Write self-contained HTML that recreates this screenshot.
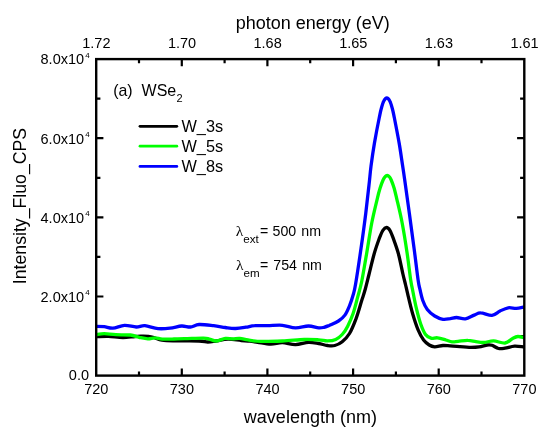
<!DOCTYPE html>
<html><head><meta charset="utf-8"><title>WSe2 fluorescence</title>
<style>
html,body{margin:0;padding:0;background:#fff}
svg{display:block}
text{font-family:"Liberation Sans",Arial,sans-serif;fill:#000}
</style></head><body>
<svg width="550" height="433" viewBox="0 0 550 433">
<rect width="550" height="433" fill="#fff"/>
<g stroke="#000" stroke-width="2.2" fill="none"><path d="M139.0 59.1 v4.2 M139.0 375.6 v-4.2"/><path d="M181.8 59.1 v7.2 M181.8 375.6 v-7.2"/><path d="M224.6 59.1 v4.2 M224.6 375.6 v-4.2"/><path d="M267.4 59.1 v7.2 M267.4 375.6 v-7.2"/><path d="M310.2 59.1 v4.2 M310.2 375.6 v-4.2"/><path d="M353.1 59.1 v7.2 M353.1 375.6 v-7.2"/><path d="M395.9 59.1 v4.2 M395.9 375.6 v-4.2"/><path d="M438.7 59.1 v7.2 M438.7 375.6 v-7.2"/><path d="M481.5 59.1 v4.2 M481.5 375.6 v-4.2"/><path d="M96.2 336.0 h4.2 M524.3 336.0 h-4.2"/><path d="M96.2 296.5 h7.2 M524.3 296.5 h-7.2"/><path d="M96.2 256.9 h4.2 M524.3 256.9 h-4.2"/><path d="M96.2 217.4 h7.2 M524.3 217.4 h-7.2"/><path d="M96.2 177.8 h4.2 M524.3 177.8 h-4.2"/><path d="M96.2 138.2 h7.2 M524.3 138.2 h-7.2"/><path d="M96.2 98.7 h4.2 M524.3 98.7 h-4.2"/></g>
<g fill="none" stroke-width="3.3" stroke-linejoin="round" stroke-linecap="butt">
<path stroke="#000" d="M96.5 336.6C98.5 336.6 104.1 336.1 108.5 336.3C112.9 336.5 118.6 337.6 123.0 337.6C127.4 337.6 131.8 336.7 135.0 336.5C138.2 336.3 139.2 336.1 142.0 336.2C144.8 336.3 148.7 336.3 152.0 337.0C155.3 337.7 158.3 339.6 162.0 340.2C165.7 340.8 167.8 340.8 174.0 340.9C180.2 341.0 193.4 340.8 199.0 341.0C204.6 341.2 205.0 342.0 207.8 342.0C210.6 342.0 212.6 341.5 216.0 341.0C219.4 340.5 223.8 339.3 228.0 339.2C232.2 339.1 237.6 340.2 241.3 340.5C245.0 340.8 247.3 340.9 250.0 341.2C252.7 341.5 254.2 341.8 257.6 342.3C261.1 342.8 266.6 344.1 270.7 344.2C274.8 344.3 278.3 342.6 282.4 342.7C286.5 342.8 291.1 344.7 295.5 344.6C299.9 344.5 304.6 342.5 308.5 342.3C312.4 342.1 315.6 343.0 318.7 343.5C321.8 344.0 324.7 345.2 327.4 345.5C330.1 345.8 332.3 346.1 334.8 345.5C337.3 344.9 339.8 343.8 342.2 341.8C344.6 339.8 347.2 337.3 349.5 333.5C351.8 329.7 353.9 324.3 356.0 318.8C358.1 313.3 360.2 305.3 361.8 300.3C363.4 295.3 364.1 293.4 365.3 289.0C366.5 284.6 367.6 279.9 369.1 274.0C370.6 268.1 372.5 259.6 374.2 253.7C375.9 247.8 377.9 242.3 379.3 238.4C380.8 234.5 381.7 232.1 382.9 230.3C384.1 228.5 385.2 227.5 386.4 227.5C387.6 227.5 388.8 228.5 389.9 230.3C391.0 232.1 391.9 234.5 393.3 238.4C394.7 242.3 396.8 247.8 398.4 253.7C400.0 259.6 401.7 268.8 402.9 274.0C404.1 279.2 404.8 281.5 405.6 285.0C406.4 288.5 406.8 290.1 407.9 294.8C409.0 299.5 410.8 307.4 412.5 313.2C414.2 319.0 416.2 325.3 418.1 329.8C420.0 334.3 421.8 337.5 423.6 340.0C425.5 342.5 427.4 343.9 429.2 345.0C431.0 346.1 432.4 346.7 434.7 346.8C437.0 346.9 440.4 345.6 443.0 345.5C445.6 345.4 447.2 345.7 450.0 345.9C452.8 346.1 456.2 346.4 459.7 346.6C463.2 346.9 467.8 347.3 471.0 347.4C474.2 347.4 476.4 347.3 479.1 346.9C481.8 346.5 485.1 345.3 487.2 345.0C489.3 344.7 490.1 344.7 492.0 345.3C493.9 345.9 496.3 348.0 498.5 348.5C500.7 349.0 502.3 348.6 505.0 348.2C507.7 347.8 511.4 346.3 514.6 346.1C517.8 345.9 522.4 346.9 524.0 347.0"/>
<path stroke="#00ff00" d="M96.5 334.7C97.8 334.5 101.0 333.7 104.2 333.7C107.4 333.7 111.4 334.5 115.8 334.7C120.2 334.9 126.5 334.6 130.4 335.0C134.3 335.4 136.2 336.7 139.1 337.3C142.0 337.9 145.1 338.7 147.8 338.8C150.5 338.9 152.7 337.8 155.1 337.9C157.5 337.9 159.2 338.9 162.4 339.1C165.6 339.3 170.3 339.1 174.0 339.0C177.7 338.9 179.6 338.8 184.5 338.7C189.4 338.6 199.4 338.0 203.5 338.1C207.6 338.2 207.1 338.6 209.3 339.1C211.5 339.6 213.8 341.1 216.5 341.0C219.2 340.9 222.6 338.8 225.3 338.4C228.0 338.0 230.1 338.8 232.5 338.8C234.9 338.8 237.2 338.2 239.8 338.4C242.4 338.6 244.6 339.4 248.0 339.9C251.4 340.4 254.8 341.2 260.5 341.4C266.2 341.6 275.1 341.3 282.4 341.0C289.7 340.7 298.1 339.7 304.2 339.5C310.2 339.3 314.8 339.6 318.7 339.8C322.6 340.0 324.6 341.0 327.4 340.9C330.2 340.8 333.2 340.5 335.7 339.4C338.2 338.3 340.2 336.7 342.2 334.5C344.2 332.3 345.9 329.8 347.7 326.2C349.5 322.6 351.5 318.1 353.2 313.2C354.9 308.3 356.4 301.8 357.8 296.6C359.2 291.4 360.1 289.1 361.6 282.0C363.1 274.9 364.9 263.5 366.6 253.7C368.3 243.9 369.9 232.5 371.7 223.2C373.5 213.9 376.1 203.8 377.5 197.8C378.9 191.9 379.4 190.5 380.3 187.5C381.2 184.5 382.3 181.8 383.1 180.0C383.9 178.2 384.5 177.3 385.2 176.6C385.9 175.8 386.5 175.5 387.2 175.5C387.9 175.5 388.5 175.8 389.2 176.6C389.9 177.3 390.4 178.1 391.2 180.0C392.0 181.9 393.0 184.4 394.0 187.8C395.0 191.2 395.7 194.4 397.1 200.3C398.5 206.2 400.5 214.3 402.2 223.2C403.9 232.1 405.8 244.2 407.2 253.7C408.6 263.2 409.8 274.1 410.7 280.0C411.6 285.9 411.5 284.4 412.4 289.0C413.3 293.6 414.8 301.8 416.2 307.7C417.6 313.6 419.2 319.8 420.8 324.3C422.4 328.8 423.8 332.2 425.5 334.5C427.2 336.8 429.0 337.6 431.0 338.2C433.0 338.8 435.0 337.5 437.5 337.8C440.0 338.1 443.4 339.3 445.8 340.0C448.2 340.7 449.9 341.6 452.0 341.8C454.1 342.0 455.5 341.6 458.1 341.4C460.7 341.2 464.8 340.3 467.8 340.4C470.8 340.4 473.2 341.3 475.9 341.7C478.6 342.1 480.9 342.6 483.9 342.5C486.8 342.4 490.1 340.8 493.6 340.9C497.1 341.0 501.8 343.4 505.0 343.0C508.2 342.6 510.9 339.3 513.0 338.2C515.1 337.1 516.1 336.6 517.9 336.5C519.7 336.4 523.0 337.5 524.0 337.7"/>
<path stroke="#0000ff" d="M96.5 326.4C97.8 326.4 101.5 326.4 104.2 326.7C106.9 327.0 109.5 328.4 112.9 328.2C116.3 328.0 120.6 325.5 124.5 325.3C128.4 325.1 132.8 326.9 136.2 327.0C139.6 327.1 141.3 325.4 144.9 325.7C148.5 326.0 153.8 328.2 158.0 328.6C162.2 329.0 166.1 328.6 170.0 328.2C173.9 327.8 178.2 326.2 181.6 326.0C185.0 325.8 187.5 327.2 190.4 327.0C193.3 326.8 195.2 324.7 199.1 324.5C203.0 324.3 209.2 325.2 213.6 325.7C218.0 326.2 221.7 327.0 225.3 327.5C229.0 328.0 232.1 328.6 235.5 328.5C238.9 328.4 242.8 327.7 246.0 327.2C249.2 326.7 251.1 325.9 254.7 325.7C258.3 325.4 263.2 325.8 267.8 325.7C272.4 325.6 277.8 324.9 282.4 325.3C287.0 325.7 291.1 327.8 295.5 327.9C299.9 328.0 304.6 326.0 308.5 326.0C312.4 326.0 316.1 327.7 318.7 327.9C321.3 328.1 322.2 327.7 324.0 327.3C325.8 326.9 326.8 326.4 329.2 325.4C331.6 324.3 335.9 322.7 338.5 321.0C341.1 319.3 343.1 317.6 344.9 315.1C346.7 312.6 348.1 309.2 349.5 305.8C350.9 302.4 352.2 298.4 353.2 294.8C354.2 291.2 354.3 291.7 355.6 284.0C356.9 276.3 359.3 260.4 361.0 248.6C362.7 236.8 364.5 223.6 365.8 213.0C367.1 202.4 368.1 192.8 369.0 185.0C369.9 177.2 370.1 173.2 371.0 166.3C371.9 159.4 373.0 151.5 374.4 143.4C375.8 135.3 378.0 123.8 379.2 118.0C380.4 112.2 380.5 111.3 381.3 108.5C382.1 105.7 382.9 102.8 383.8 101.1C384.7 99.3 385.8 98.0 386.8 98.0C387.8 98.0 388.9 99.3 389.8 101.1C390.7 102.8 391.5 105.7 392.3 108.5C393.1 111.3 393.2 112.2 394.4 118.0C395.5 123.8 397.8 135.3 399.2 143.4C400.6 151.5 401.7 159.9 402.7 166.3C403.7 172.7 403.9 174.2 405.0 182.0C406.1 189.8 407.8 201.9 409.3 213.0C410.8 224.1 412.6 237.4 414.1 248.6C415.6 259.8 417.1 273.2 418.1 280.0C419.1 286.8 419.1 285.8 419.9 289.2C420.7 292.6 421.5 296.9 422.7 300.3C423.9 303.7 425.3 306.9 427.3 309.5C429.3 312.1 432.1 314.4 434.7 316.0C437.3 317.6 440.4 318.9 443.0 319.3C445.6 319.7 448.1 318.9 450.4 318.6C452.6 318.3 454.0 317.5 456.5 317.5C459.0 317.5 462.4 319.2 465.4 318.8C468.3 318.4 471.6 316.1 474.2 315.1C476.8 314.1 477.7 312.8 480.7 312.9C483.7 312.9 488.8 315.7 492.0 315.4C495.2 315.1 497.4 312.3 500.1 311.0C502.8 309.7 505.5 308.2 508.2 307.8C510.9 307.4 513.7 308.4 516.3 308.3C518.9 308.2 522.7 307.2 524.0 307.0"/>
</g>
<rect x="96.2" y="59.1" width="428.1" height="316.5" fill="none" stroke="#000" stroke-width="2.4"/>
<g font-size="14.5"><text x="96.4" y="48.4" text-anchor="middle">1.72</text><text x="96.3" y="393.8" text-anchor="middle">720</text><text x="182.0" y="48.4" text-anchor="middle">1.70</text><text x="181.9" y="393.8" text-anchor="middle">730</text><text x="267.6" y="48.4" text-anchor="middle">1.68</text><text x="267.5" y="393.8" text-anchor="middle">740</text><text x="353.3" y="48.4" text-anchor="middle">1.65</text><text x="353.2" y="393.8" text-anchor="middle">750</text><text x="438.9" y="48.4" text-anchor="middle">1.63</text><text x="438.8" y="393.8" text-anchor="middle">760</text><text x="524.5" y="48.4" text-anchor="middle">1.61</text><text x="524.4" y="393.8" text-anchor="middle">770</text><text x="89" y="380.3" text-anchor="end">0.0</text><text x="84.1" y="301.8" text-anchor="end">2.0x10</text><text x="85.2" y="295.0" font-size="8">4</text><text x="84.1" y="222.7" text-anchor="end">4.0x10</text><text x="85.2" y="215.9" font-size="8">4</text><text x="84.1" y="143.5" text-anchor="end">6.0x10</text><text x="85.2" y="136.7" font-size="8">4</text><text x="84.1" y="64.4" text-anchor="end">8.0x10</text><text x="85.2" y="57.6" font-size="8">4</text></g>
<text x="312.7" y="28.5" font-size="18" text-anchor="middle">photon energy (eV)</text>
<text x="310.4" y="422.7" font-size="18" text-anchor="middle">wavelength (nm)</text>
<text transform="translate(25.7 206) rotate(-90)" font-size="17.7" text-anchor="middle">Intensity_Fluo_CPS</text>
<text x="113.2" y="95.9" font-size="15.9">(a)</text>
<text x="141.6" y="95.9" font-size="16">WSe<tspan font-size="11" dx="0.2" dy="5.7">2</tspan></text>
<g stroke-width="2.8" stroke-linecap="round">
<path stroke="#000" d="M140 126.3H176.8"/>
<path stroke="#00ff00" d="M140 146.2H176.8"/>
<path stroke="#0000ff" d="M140 166.4H176.8"/>
</g>
<g font-size="16.3">
<text x="181.5" y="131.8">W_3s</text>
<text x="181.5" y="151.8">W_5s</text>
<text x="181.5" y="172">W_8s</text>
</g>
<g font-size="14.2">
<text y="236"><tspan x="235.8" font-family="'Liberation Serif','DejaVu Serif',serif" font-size="15.5">λ</tspan><tspan x="243.2" font-size="11.6" dy="7.3">ext</tspan><tspan x="260" dy="-7.3">=</tspan><tspan x="272.6">500</tspan><tspan x="301.3">nm</tspan></text>
<text y="270"><tspan x="236.1" font-family="'Liberation Serif','DejaVu Serif',serif" font-size="15.5">λ</tspan><tspan x="243.5" font-size="11.6" dy="7.3">em</tspan><tspan x="260" dy="-7.3">=</tspan><tspan x="273.3">754</tspan><tspan x="302.2">nm</tspan></text>
</g>
</svg>
</body></html>
